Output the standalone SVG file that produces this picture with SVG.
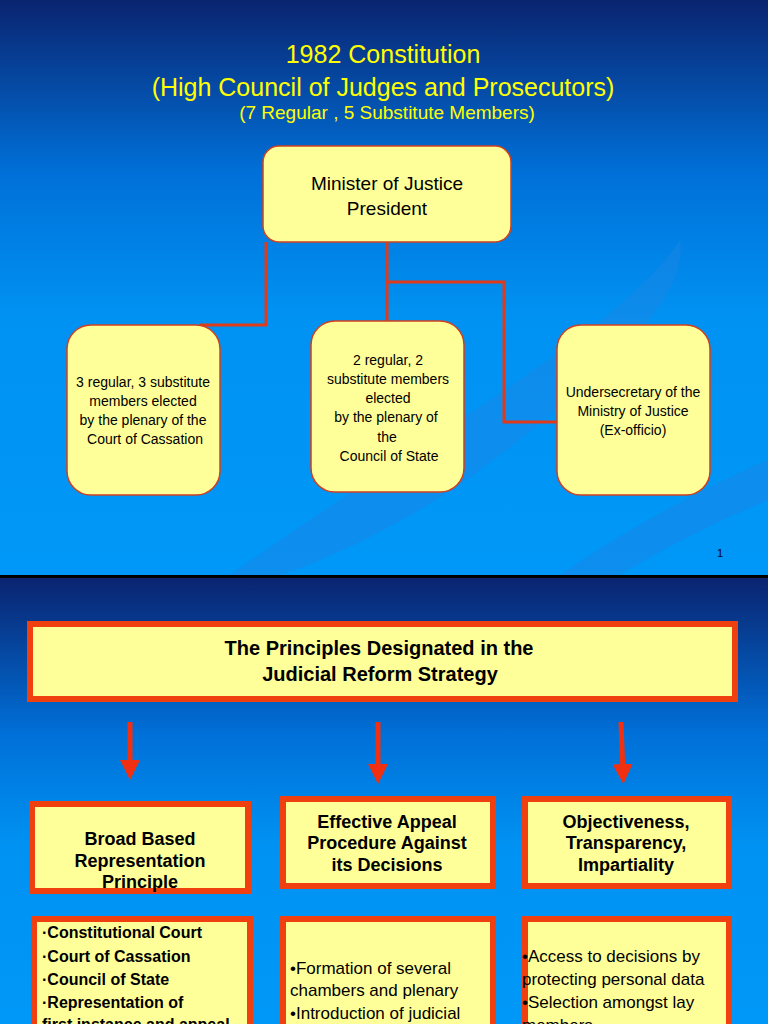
<svg xmlns="http://www.w3.org/2000/svg" width="768" height="1024" viewBox="0 0 768 1024">
<defs>
<linearGradient id="bg" x1="0" y1="0" x2="0" y2="1"><stop offset="0" stop-color="#0a2470"/><stop offset="0.3" stop-color="#0070d8"/><stop offset="0.55" stop-color="#0092f2"/><stop offset="1" stop-color="#0098f8"/></linearGradient>
<linearGradient id="bg2" x1="0" y1="0" x2="0" y2="1"><stop offset="0" stop-color="#0a2470"/><stop offset="0.35" stop-color="#0070d8"/><stop offset="0.6" stop-color="#0092f2"/><stop offset="1" stop-color="#0098f8"/></linearGradient>
<marker id="ah" viewBox="0 0 10 10" refX="5" refY="5" markerWidth="4" markerHeight="4" orient="auto"><path d="M0,0L10,5L0,10z" fill="#f03010"/></marker>
</defs>
<style>
.t{font-family:"Liberation Sans",Arial,sans-serif;fill:#000;text-anchor:middle}
.n{fill:#ffff99;stroke:#d04020;stroke-width:1.5}
.b{fill:#ffff99;stroke:#f04010;stroke-width:6}
.c{fill:none;stroke:#e03a1a;stroke-width:3}
.bd{font-family:"Liberation Sans",Arial,sans-serif;font-weight:bold;font-size:18px;fill:#000;text-anchor:middle}
.bl{font-family:"Liberation Sans",Arial,sans-serif;font-weight:bold;font-size:16px;fill:#000}
</style>
<rect width="768" height="1024" fill="#000"/>
<rect x="0" y="0" width="768" height="575" fill="url(#bg)"/>
<rect x="0" y="578" width="768" height="446" fill="url(#bg2)"/>
<path d="M230,575 C450,420 620,330 680,240 C690,300 600,380 480,470 C420,515 330,560 280,575z" fill="#1a86e6" opacity="0.5"/>
<path d="M560,575 C640,520 720,480 768,460 L768,500 C720,520 660,550 620,575z" fill="#1a86e6" opacity="0.5"/>
<g id="title">
<text class="t" x="383" y="63" font-size="25" style="fill:#ffff00">1982 Constitution</text>
<text class="t" x="383" y="96" font-size="25" style="fill:#ffff00">(High Council of Judges and Prosecutors)</text>
<text class="t" x="387" y="119" font-size="19" style="fill:#ffff00">(7 Regular , 5 Substitute Members)</text>
</g>
<g id="connectors">
<path class="c" d="M387,242 V325 M387,282 H504 V422 H557 M266,242 V325 H200"/>
<line x1="130" y1="722" x2="130" y2="770" stroke="#f03010" stroke-width="5" marker-end="url(#ah)"/>
<line x1="378" y1="722" x2="378" y2="774" stroke="#f03010" stroke-width="5" marker-end="url(#ah)"/>
<line x1="621" y1="722" x2="623" y2="774" stroke="#f03010" stroke-width="5" marker-end="url(#ah)"/>
</g>
<g id="minister"><rect class="n" x="263" y="146" width="248" height="96" rx="16"/>
<text class="t" x="387" y="190" font-size="19">Minister of Justice</text><text class="t" x="387" y="215" font-size="19">President</text></g>
<g id="cassation"><rect class="n" x="67" y="325" width="153" height="170" rx="24"/>
<text class="t" font-size="14"><tspan x="143" y="387">3 regular, 3 substitute</tspan><tspan x="143" y="406">members elected</tspan><tspan x="143" y="425">by the plenary of the</tspan><tspan x="145" y="444">Court of Cassation</tspan></text></g>
<g id="state"><rect class="n" x="311" y="321" width="153" height="171" rx="24"/>
<text class="t" font-size="14"><tspan x="388" y="365">2 regular, 2</tspan><tspan x="388" y="384">substitute  members</tspan><tspan x="388" y="403">elected</tspan><tspan x="386" y="422">by the plenary of</tspan><tspan x="387" y="442">the</tspan><tspan x="389" y="461">Council of State</tspan></text></g>
<g id="undersec"><rect class="n" x="557" y="325" width="153" height="170" rx="24"/>
<text class="t" font-size="14"><tspan x="633" y="397">Undersecretary of the</tspan><tspan x="633" y="416">Ministry of Justice</tspan><tspan x="633" y="435">(Ex-officio)</tspan></text></g>
<text x="717" y="557" font-family="Liberation Sans,Arial,sans-serif" font-size="11" fill="#000">1</text>
<g id="header"><rect class="b" x="30" y="624" width="705" height="75"/>
<text class="t" x="379" y="655" font-size="20" font-weight="bold">The Principles Designated in the</text>
<text class="t" x="380" y="681" font-size="20" font-weight="bold">Judicial Reform Strategy</text></g>
<g id="p1"><rect class="b" x="32" y="804" width="216" height="87"/>
<text class="bd"><tspan x="140" y="845">Broad Based</tspan><tspan x="140" y="867">Representation</tspan><tspan x="140" y="888">Principle</tspan></text></g>
<g id="p2"><rect class="b" x="283" y="799" width="210" height="87"/>
<text class="bd"><tspan x="387" y="828">Effective Appeal</tspan><tspan x="387" y="849">Procedure Against</tspan><tspan x="387" y="871">its Decisions</tspan></text></g>
<g id="p3"><rect class="b" x="525" y="799" width="204" height="87"/>
<text class="bd"><tspan x="626" y="828">Objectiveness,</tspan><tspan x="626" y="849">Transparency,</tspan><tspan x="626" y="871">Impartiality</tspan></text></g>
<g id="d1"><rect class="b" x="34" y="919" width="216" height="120"/>
<text class="bl"><tspan x="42" y="938">·Constitutional Court</tspan><tspan x="42" y="962">·Court of Cassation</tspan><tspan x="42" y="985">·Council of State</tspan><tspan x="42" y="1008">·Representation of</tspan><tspan x="42" y="1030">first instance and appeal</tspan></text></g>
<g id="d2"><rect class="b" x="283" y="919" width="210" height="120"/>
<text class="bl" style="font-weight:normal;font-size:17px"><tspan x="290" y="974">•Formation of several</tspan><tspan x="290" y="996">chambers and  plenary</tspan><tspan x="290" y="1019">•Introduction of judicial</tspan></text></g>
<g id="d3"><rect class="b" x="525" y="919" width="204" height="120"/>
<text class="bl" style="font-weight:normal;font-size:17px"><tspan x="522" y="962">•Access to decisions by</tspan><tspan x="522" y="985">protecting personal data</tspan><tspan x="522" y="1008">•Selection amongst lay</tspan><tspan x="522" y="1031">members</tspan></text></g>
</svg>
